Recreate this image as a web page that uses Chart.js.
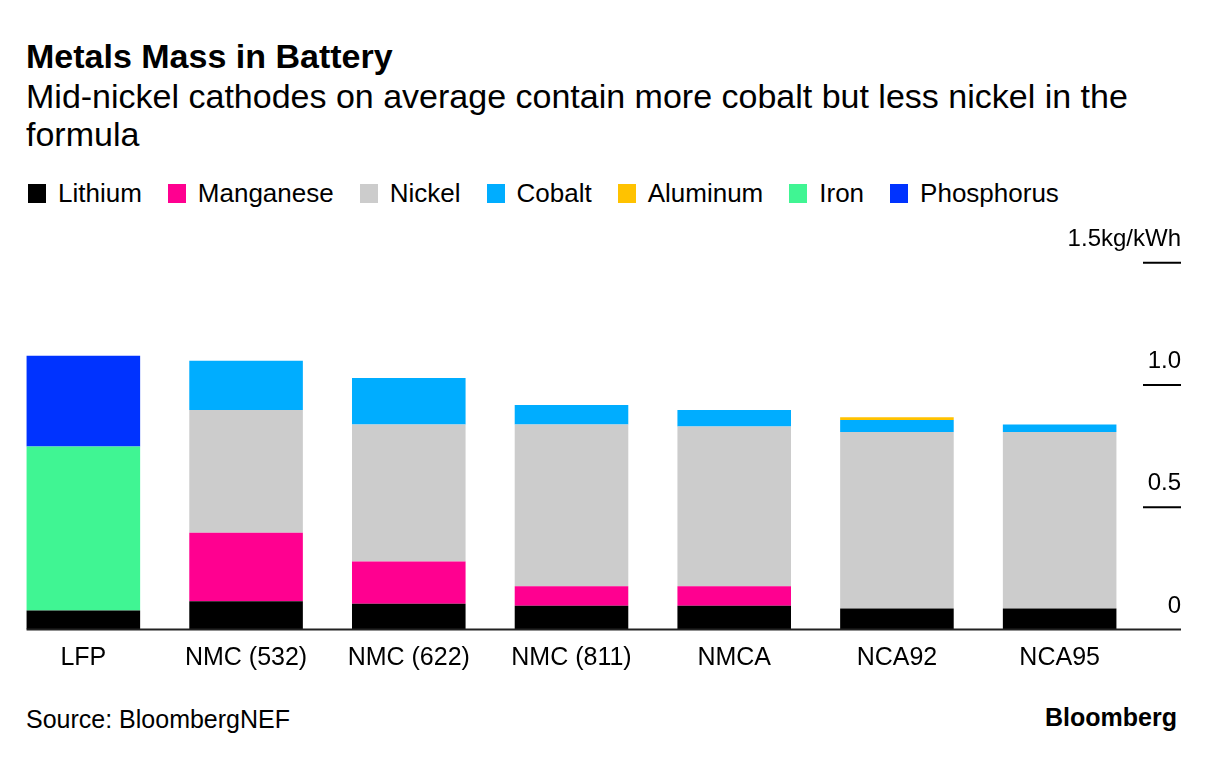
<!DOCTYPE html>
<html>
<head>
<meta charset="utf-8">
<script src="https://cdn.jsdelivr.net/npm/chart.js@4.4.1/dist/chart.umd.min.js"></script>
<style>
  html, body { margin: 0; padding: 0; background: #fff; }
  body { width: 1213px; height: 760px; position: relative; overflow: hidden; font-family: "Liberation Sans", Arial, sans-serif; color: #000; }
  #title { position: absolute; left: 26px; top: 36px; font-size: 34px; font-weight: bold; line-height: 40px; white-space: nowrap; }
  #subtitle { position: absolute; left: 26px; top: 77px; width: 1140px; font-size: 34px; line-height: 38px; }
  #legend { position: absolute; left: 28px; top: 178px; display: flex; font-size: 26px; line-height: 30px; white-space: nowrap; }
  .item { display: flex; align-items: center; margin-right: 26px; }
  .box { width: 18px; height: 19px; margin-right: 12px; }
  #source { position: absolute; left: 26px; top: 704px; font-size: 25px; line-height: 30px; }
  #brand { position: absolute; right: 36px; top: 702px; font-size: 25px; font-weight: bold; line-height: 30px; }
  #wrap { position: absolute; left: 0; top: 210px; width: 1213px; height: 470px; }
</style>
</head>
<body>
<div id="title">Metals Mass in Battery</div>
<div id="subtitle">Mid-nickel cathodes on average contain more cobalt but less nickel in the formula</div>
<div id="legend"></div>
<div id="wrap"><canvas id="c"></canvas></div>
<div id="source">Source: BloombergNEF</div>
<div id="brand">Bloomberg</div>
<script>
const categories = ["LFP", "NMC (532)", "NMC (622)", "NMC (811)", "NMCA", "NCA92", "NCA95"];
const lithium    = [0.078, 0.116, 0.105, 0.097, 0.097, 0.086, 0.086];
const manganese  = [0, 0.280, 0.173, 0.080, 0.080, 0, 0];
const nickel     = [0, 0.502, 0.560, 0.661, 0.653, 0.722, 0.722];
const cobalt     = [0, 0.201, 0.190, 0.080, 0.068, 0.049, 0.030];
const aluminum   = [0, 0, 0, 0, 0, 0.011, 0];
const iron       = [0.670, 0, 0, 0, 0, 0, 0];
const phosphorus = [0.371, 0, 0, 0, 0, 0, 0];
const yTickValues = [0, 0.5, 1.0, 1.5];
const yTickLabels = ["0", "0.5", "1.0", "1.5kg/kWh"];

const seriesNames  = ["Lithium", "Manganese", "Nickel", "Cobalt", "Aluminum", "Iron", "Phosphorus"];
const seriesData   = [lithium, manganese, nickel, cobalt, aluminum, iron, phosphorus];
const seriesColors = ["#000000", "#ff0090", "#cccccc", "#00adff", "#ffc200", "#40f593", "#0033ff"];

// HTML legend
const legend = document.getElementById('legend');
seriesNames.forEach((n, i) => {
  const it = document.createElement('div'); it.className = 'item';
  const b = document.createElement('div'); b.className = 'box'; b.style.background = seriesColors[i];
  const t = document.createElement('span'); t.textContent = n;
  it.appendChild(b); it.appendChild(t); legend.appendChild(it);
});

const axisPlugin = {
  id: 'axisPlugin',
  afterDatasetsDraw(chart) {
    const ctx = chart.ctx, y = chart.scales.y, area = chart.chartArea;
    const bar0 = chart.getDatasetMeta(0).data[0];
    const left = bar0.x - bar0.width / 2;
    const right = area.right + 40;
    ctx.save();
    ctx.strokeStyle = '#222';
    ctx.lineWidth = 2;
    const y0 = y.getPixelForValue(0);
    ctx.beginPath(); ctx.moveTo(left, y0); ctx.lineTo(right, y0); ctx.stroke();
    ctx.strokeStyle = '#000';
    ctx.fillStyle = '#000';
    ctx.font = '24px "Liberation Sans", Arial, sans-serif';
    ctx.textAlign = 'right';
    ctx.textBaseline = 'alphabetic';
    yTickValues.forEach((v, i) => {
      const py = y.getPixelForValue(v);
      if (v !== 0) {
        ctx.beginPath(); ctx.moveTo(area.right + 2, py); ctx.lineTo(right, py); ctx.stroke();
      }
      ctx.fillText(yTickLabels[i], right, py - 17);
    });
    ctx.restore();
  }
};

new Chart(document.getElementById('c'), {
  type: 'bar',
  data: {
    labels: categories,
    datasets: seriesNames.map((n, i) => ({
      label: n,
      data: seriesData[i],
      backgroundColor: seriesColors[i],
      borderWidth: 0,
      barPercentage: 1.0,
      categoryPercentage: 0.698
    }))
  },
  options: {
    responsive: true,
    maintainAspectRatio: false,
    animation: false,
    layout: { padding: { left: 2, right: 72, top: 52.7, bottom: 0 } },
    plugins: { legend: { display: false }, tooltip: { enabled: false } },
    scales: {
      x: {
        stacked: true,
        grid: { display: false, drawTicks: false },
        border: { display: false },
        ticks: { color: '#000', font: { size: 25, family: '"Liberation Sans", Arial, sans-serif' }, padding: 14, maxRotation: 0, autoSkip: false },
        afterFit(scale) { scale.height = 50.5; }
      },
      y: {
        stacked: true,
        display: false,
        min: 0,
        max: 1.5
      }
    }
  },
  plugins: [axisPlugin]
});
</script>
</body>
</html>
